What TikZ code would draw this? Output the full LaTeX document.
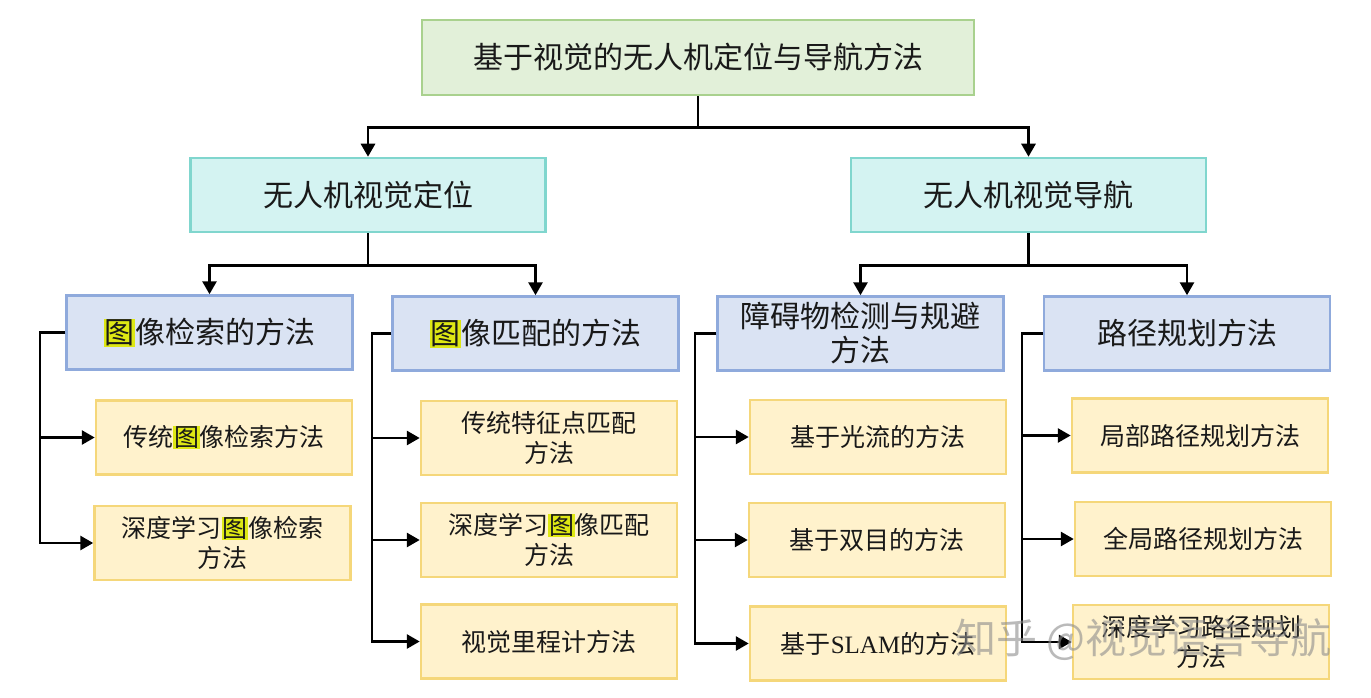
\documentclass[tikz,border=0pt]{standalone}
\usepackage{fontspec}
\setmainfont{Noto Sans CJK SC}
\newfontfamily\latserif{Liberation Serif}
\usetikzlibrary{arrows.meta}
\definecolor{rootfill}{RGB}{226,240,217}
\definecolor{rootline}{RGB}{169,209,142}
\definecolor{lonefill}{RGB}{212,243,242}
\definecolor{loneline}{RGB}{128,214,206}
\definecolor{ltwofill}{RGB}{218,227,243}
\definecolor{ltwoline}{RGB}{143,170,220}
\definecolor{leaffill}{RGB}{255,242,204}
\definecolor{leafline}{RGB}{245,215,122}
\definecolor{hlcolor}{RGB}{222,232,20}
\newcommand{\hlchar}[1]{{\setlength{\fboxsep}{0.6pt}\colorbox{hlcolor}{#1}}}
\begin{document}
\begin{tikzpicture}[x=1pt,y=-1pt,
  box/.style={draw, line width=2.5pt, inner sep=0pt, align=center, minimum height=74pt, text=black!90},
  rootbox/.style={box, fill=rootfill, draw=rootline, minimum width=552pt, minimum height=75pt, font=\fontsize{30}{36}\selectfont},
  lone/.style={box, fill=lonefill, draw=loneline, minimum width=355pt, font=\fontsize{30}{36}\selectfont},
  ltwo/.style={box, fill=ltwofill, draw=ltwoline, minimum width=286pt, font=\fontsize{30}{34}\selectfont},
  leaf/.style={box, fill=leaffill, draw=leafline, minimum width=256pt, font=\fontsize{25}{30}\selectfont},
  conn/.style={line width=2.8pt, black},
  arr/.style={conn, -{Triangle[length=13pt,width=14pt]}}]
\useasboundingbox (0,0) rectangle (1371,698);
\fill[white] (0,0) rectangle (1371,698);

% nodes
\node[rootbox] (root) at (698,57.5) {基于视觉的无人机定位与导航方法};
\node[lone] (loc) at (368,195) {无人机视觉定位};
\node[lone] (nav) at (1028.5,195) {无人机视觉导航};

\node[ltwo] (ret) at (209.5,332.5) {\hlchar{图}像检索的方法};
\node[ltwo] (mat) at (535.5,333.5) {\hlchar{图}像匹配的方法};
\node[ltwo] (obs) at (860.5,333.5) {障碍物检测与规避\\方法};
\node[ltwo] (path) at (1187,333.5) {路径规划方法};

\node[leaf] (r1) at (224,437.5) {传统\hlchar{图}像检索方法};
\node[leaf] (r2) at (222.5,543) {深度学习\hlchar{图}像检索\\方法};
\node[leaf] (m1) at (549,438) {传统特征点匹配\\方法};
\node[leaf] (m2) at (549,540) {深度学习\hlchar{图}像匹配\\方法};
\node[leaf] (m3) at (549,641.5) {视觉里程计方法};
\node[leaf] (o1) at (878,437) {基于光流的方法};
\node[leaf] (o2) at (877,540) {基于双目的方法};
\node[leaf] (o3) at (878,643.5) {基于{\latserif SLAM}的方法};
\node[leaf] (p1) at (1200,435.5) {局部路径规划方法};
\node[leaf] (p2) at (1203,539) {全局路径规划方法};
\node[leaf] (p3) at (1201,642) {深度学习路径规划\\方法};

% top level connectors
\draw[conn] (root.south) -- ++(0,31) coordinate (j0);
\draw[arr] (j0) -| (loc.north);
\draw[arr] (j0) -| (nav.north);

\draw[conn] (loc.south) -- ++(0,32) coordinate (j1);
\draw[arr] (j1) -| (ret.north);
\draw[arr] (j1) -| (mat.north);

\draw[conn] (nav.south) -- ++(0,32) coordinate (j2);
\draw[arr] (j2) -| (obs.north);
\draw[arr] (j2) -| (path.north);

% spines
\coordinate (s1) at (40,0);
\coordinate (s2) at (372,0);
\coordinate (s3) at (695,0);
\coordinate (s4) at (1022,0);

\draw[arr] (ret.west) -- (ret.west -| s1) |- (r2.west);
\draw[arr] (r1.west -| s1) -- (r1.west);

\draw[arr] (mat.west) -- (mat.west -| s2) |- (m3.west);
\draw[arr] (m1.west -| s2) -- (m1.west);
\draw[arr] (m2.west -| s2) -- (m2.west);

\draw[arr] (obs.west) -- (obs.west -| s3) |- (o3.west);
\draw[arr] (o1.west -| s3) -- (o1.west);
\draw[arr] (o2.west -| s3) -- (o2.west);

\draw[arr] (path.west) -- (path.west -| s4) |- (p3.west);
\draw[arr] (p1.west -| s4) -- (p1.west);
\draw[arr] (p2.west -| s4) -- (p2.west);

% watermark
\node[anchor=west, inner sep=0pt, font=\fontsize{41}{41}\selectfont, text=black!45, text opacity=0.6] (wm) at (955,640) {知乎 @视觉语言导航};
\end{tikzpicture}
\end{document}
